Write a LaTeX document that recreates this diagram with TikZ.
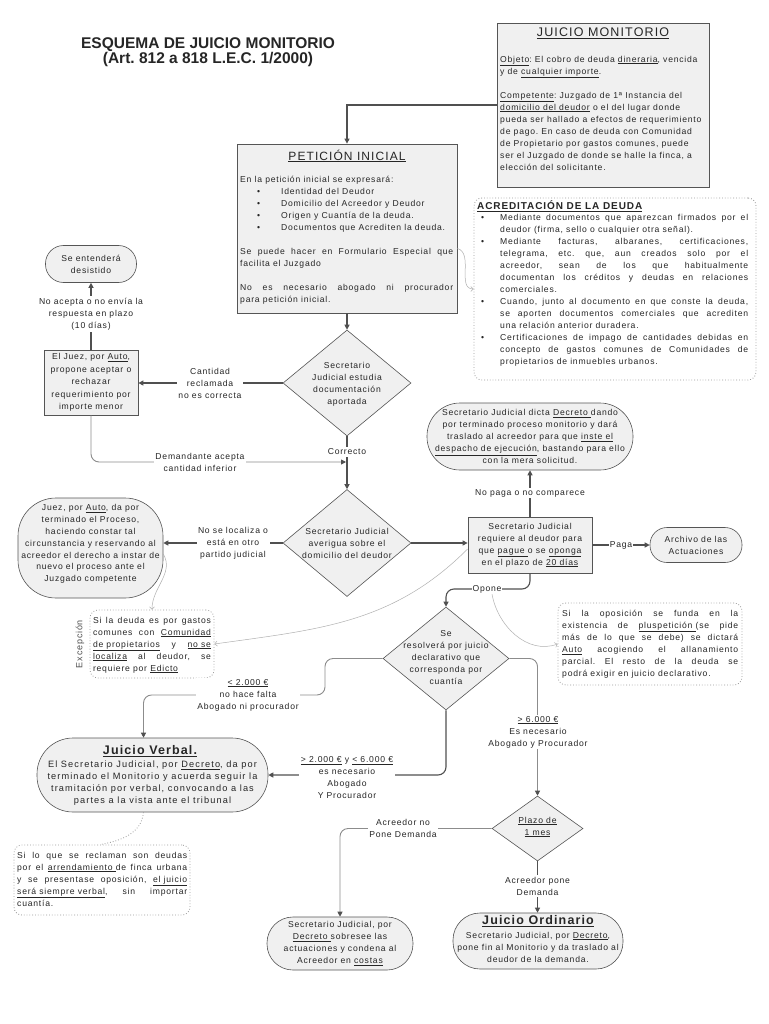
\documentclass[tikz,border=0pt]{standalone}
\usepackage{fontspec}
\setmainfont{Liberation Sans}[LetterSpace=9]
\newfontfamily\titlefont{Liberation Sans}
\usetikzlibrary{shapes.geometric,arrows.meta}
\definecolor{tx}{HTML}{262626}
\definecolor{bd}{HTML}{555555}
\definecolor{fl}{HTML}{F0F0F0}
\definecolor{ln}{HTML}{505050}
\definecolor{lg}{HTML}{8C8C8C}
\definecolor{nt}{HTML}{B0B0B0}
\definecolor{dt}{HTML}{999999}
\newlength\jw
\newcommand\J[1]{\makebox[\jw][s]{#1}}
\frenchspacing
\tikzset{
  base/.style={font=\fontsize{8.6}{12}\selectfont\frenchspacing, text=tx, inner sep=0pt},
  rectbox/.style={draw=bd, fill=fl, line width=0.8pt},
  stadium/.style={draw=bd, fill=fl, line width=0.6pt},
  diam/.style={diamond, draw=bd, fill=fl, line width=0.6pt, inner sep=0pt},
  notebox/.style={draw=dt, dotted, line width=0.8pt, rounded corners=8pt, fill=white, inner sep=0pt},
  txt/.style={base, align=center},
  lbl/.style={base, align=center, fill=white, inner sep=1.5pt},
  conn/.style={draw=ln, line width=1.1pt, -{Triangle[length=5pt,width=5pt]}},
  lconn/.style={draw=lg, line width=0.9pt, -{Triangle[length=5pt,width=5pt,fill=ln,color=ln]}},
  note/.style={draw=nt, line width=0.5pt, -{Straight Barb[length=2.5pt,width=5pt]}},
  jw/.style={execute at begin node={\setlength{\jw}{#1}\frenchspacing}},
}
\begin{document}
\begin{tikzpicture}[x=1pt,y=-1pt]
\useasboundingbox[fill=white] (0,0) rectangle (768,1024);

% title
\node[base, font=\titlefont\bfseries\fontsize{15.5}{15}\selectfont, align=center, text=tx] (title) at (208,52) {ESQUEMA DE JUICIO MONITORIO\\(Art. 812 a 818 L.E.C. 1/2000)};

% Juicio monitorio
\node[rectbox, minimum width=212pt, minimum height=164pt] (jm) at (603,105) {};
\node[base, font=\fontsize{12.5}{14}\selectfont] (jmt) at (603,33) {\underline{JUICIO MONITORIO}};
\node[base, align=left, anchor=west] (jmx) at (500,113) {\underline{Objeto}: El cobro de deuda \underline{dineraria}, vencida\\
y de \underline{cualquier importe}.\\[12pt]
\underline{Competente}: Juzgado de 1ª Instancia del\\
\underline{domicilio del deudor} o el del lugar donde\\
pueda ser hallado a efectos de requerimiento\\
de pago. En caso de deuda con Comunidad\\
de Propietario por gastos comunes, puede\\
ser el Juzgado de donde se halle la finca, a\\
elección del solicitante.};

% Peticion inicial
\node[rectbox, minimum width=220pt, minimum height=169pt] (pi) at (347,228.5) {};
\node[base, font=\fontsize{12}{13}\selectfont] (pit) at (347,156) {\underline{PETICIÓN INICIAL}};
\node[base, align=left, anchor=west, jw=213pt] (pix) at (240,240) {En la petición inicial se expresará:\\
\hspace*{17pt}\makebox[24pt][l]{\textbullet}Identidad del Deudor\\
\hspace*{17pt}\makebox[24pt][l]{\textbullet}Domicilio del Acreedor y Deudor\\
\hspace*{17pt}\makebox[24pt][l]{\textbullet}Origen y Cuantía de la deuda.\\
\hspace*{17pt}\makebox[24pt][l]{\textbullet}Documentos que Acrediten la deuda.\\[12pt]
\J{Se puede hacer en Formulario Especial que}\\
facilita el Juzgado\\[12pt]
\J{No es necesario abogado ni procurador}\\
para petición inicial.};

% Acreditacion
\node[notebox, minimum width=282pt, minimum height=182pt] (acr) at (615,289) {};
\node[base, font=\bfseries\fontsize{10}{12}\selectfont, anchor=west] (acrt) at (477,206) {\underline{ACREDITACIÓN DE LA DEUDA}};
\node[base, align=left, anchor=west, jw=248pt] (acrx) at (481,290) {\makebox[19pt][l]{\textbullet}\J{Mediante documentos que aparezcan firmados por el}\\
\hspace*{19pt}deudor (firma, sello o cualquier otra señal).\\
\makebox[19pt][l]{\textbullet}\J{Mediante facturas, albaranes, certificaciones,}\\
\hspace*{19pt}\J{telegrama, etc. que, aun creados solo por el}\\
\hspace*{19pt}\J{acreedor, sean de los que habitualmente}\\
\hspace*{19pt}\J{documentan los créditos y deudas en relaciones}\\
\hspace*{19pt}comerciales.\\
\makebox[19pt][l]{\textbullet}\J{Cuando, junto al documento en que conste la deuda,}\\
\hspace*{19pt}\J{se aporten documentos comerciales que acrediten}\\
\hspace*{19pt}una relación anterior duradera.\\
\makebox[19pt][l]{\textbullet}\J{Certificaciones de impago de cantidades debidas en}\\
\hspace*{19pt}\J{concepto de gastos comunes de Comunidades de}\\
\hspace*{19pt}propietarios de inmuebles urbanos.};

% diamond 1
\node[diam, minimum width=128pt, minimum height=106pt] (d1) at (347,383) {};
\node[txt] (d1t) at (347,384) {Secretario\\Judicial estudia\\documentación\\aportada};

% left column
\node[base, stadium, rounded corners=18pt, minimum width=91pt, minimum height=37pt, align=center] (des) at (91,264) {Se entenderá\\desistido};
\node[base, rectbox, minimum width=94pt, minimum height=65pt, align=center, font=\fontsize{8.6}{12.5}\selectfont] (juez) at (91,382.5) {El Juez, por \underline{Auto},\\propone aceptar o\\rechazar\\requerimiento por\\importe menor};

% diamond 2
\node[diam, minimum width=128pt, minimum height=107pt] (d2) at (347,543) {};
\node[txt] (d2t) at (347,543) {Secretario Judicial\\averigua sobre el\\domicilio del deudor};

\node[base, stadium, rounded corners=38pt, minimum width=145pt, minimum height=100pt] (j2) at (90.5,548) {};
\node[txt, font=\fontsize{8.6}{11.8}\selectfont] (j2t) at (90.5,544) {Juez, por \underline{Auto}, da por\\terminado el Proceso,\\haciendo constar tal\\circunstancia y reservando al\\acreedor el derecho a instar de\\nuevo el proceso ante el\\Juzgado competente};

% excepcion
\node[notebox, minimum width=124pt, minimum height=68pt] (exc) at (152,644) {};
\node[base, align=left, jw=118pt] (excx) at (152,645) {\J{Si la deuda es por gastos}\\
\J{comunes con \underline{Comunidad}}\\
\J{\underline{de propietarios} y \underline{no se}}\\
\J{\underline{localiza} al deudor, se}\\
requiere por \underline{Edicto}};
\node[base, rotate=90, font=\fontsize{9}{10}\selectfont, text=ln] (excl) at (80,644) {Excepción};

% requiere
\node[base, rectbox, minimum width=124pt, minimum height=56pt, align=center] (req) at (530,545) {Secretario Judicial\\requiere al deudor para\\que \underline{pague }o se \underline{oponga}\\en el plazo de \underline{20 días}};
\node[base, stadium, rounded corners=33pt, minimum width=206pt, minimum height=67pt, align=center] (dec) at (530,436.5) {Secretario Judicial dicta \underline{Decreto }dando\\por terminado proceso monitorio y dará\\traslado al acreedor para que \underline{inste el}\\\underline{despacho de ejecución}, bastando para ello\\con la mera solicitud.};
\node[base, stadium, rounded corners=17pt, minimum width=92pt, minimum height=35pt, align=center] (arch) at (696,545) {Archivo de las\\Actuaciones};

% oposicion
\node[notebox, minimum width=184pt, minimum height=82pt] (opo) at (650,644) {};
\node[base, align=left, anchor=west, jw=176pt] (opox) at (562,644) {\J{Si la oposición se funda en la}\\
\J{existencia de \underline{pluspetición }(se pide}\\
\J{más de lo que se debe) se dictará}\\
\J{\underline{Auto} acogiendo el allanamiento}\\
\J{parcial. El resto de la deuda se}\\
podrá exigir en juicio declarativo.};

% diamond 3
\node[diam, minimum width=126pt, minimum height=103pt] (d3) at (446,658.5) {};
\node[txt] (d3t) at (446,658) {Se\\resolverá por juicio\\declarativo que\\corresponda por\\cuantía};

% juicio verbal
\node[base, stadium, rounded corners=36pt, minimum width=231pt, minimum height=74pt] (jv) at (152.5,775) {};
\node[base, font=\bfseries\fontsize{12.5}{14}\selectfont] (jvt) at (150,751) {\underline{Juicio Verbal.}};
\node[txt, font=\fontsize{9.2}{12}\selectfont\addfontfeatures{LetterSpace=12}] (jvx) at (152.5,783) {El Secretario Judicial, por \underline{Decreto}, da por\\terminado el Monitorio y acuerda seguir la\\tramitación por verbal, convocando a las\\partes a la vista ante el tribunal};

% arrendamiento
\node[notebox, minimum width=176pt, minimum height=70pt] (arr) at (102,880) {};
\node[base, align=left, anchor=west, jw=170pt] (arrx) at (17,879) {\J{Si lo que se reclaman son deudas}\\
\J{por el \underline{arrendamiento }de finca urbana}\\
\J{y se presentase oposición, \underline{el juicio}}\\
\J{\underline{será siempre verbal}, sin importar}\\
cuantía.};

% plazo
\node[diam, minimum width=91pt, minimum height=65pt] (pl) at (537.5,828.5) {};
\node[txt] (plt) at (537.5,827) {\underline{Plazo de}\\\underline{1 mes}};

\node[base, stadium, rounded corners=26pt, minimum width=146pt, minimum height=53pt, align=center] (sob) at (340,943.5) {Secretario Judicial, por\\\underline{Decreto }sobresee las\\actuaciones y condena al\\Acreedor en \underline{costas}};
\node[base, stadium, rounded corners=27pt, minimum width=170pt, minimum height=56pt] (jo) at (538,941) {};
\node[base, font=\bfseries\fontsize{12.5}{14}\selectfont] (jot) at (538,921) {\underline{Juicio Ordinario}};
\node[txt] (jox) at (538,947) {Secretario Judicial, por \underline{Decreto},\\pone fin al Monitorio y da traslado al\\deudor de la demanda.};

% ---------- connectors ----------
\draw[conn] (jm.west) -| (pi.north);
\draw[conn] (pi.south) -- (d1.north);
\draw[note] ([yshift=-20pt]pi.east) to[out=-15,in=180] (acr.west);

\draw[conn] (juez.north) -- (des.south);
\draw[conn] (d1.west) -- (d1.west -| juez.east);
\coordinate (dm) at (346,462);
\draw[lconn, rounded corners=8pt] (juez.south) |- (dm);
\draw[conn] (d1.south) -- (d2.north);

\draw[conn] (d2.west) -- (d2.west -| j2.east);
\draw[conn] (d2.east) -- (d2.east -| req.west);
\draw[note] ([yshift=-6pt]j2.east) to[out=-60,in=90] (exc.north);
\draw[note] ([yshift=-4pt]req.west) to[out=225,in=8] (exc.east);

\draw[conn] (req.north) -- (req.north |- dec.south);
\draw[conn] (req.east) -- (arch.west);
\coordinate (op) at (446,589);
\draw[conn, rounded corners=8pt] (req.south) |- (op) -- (d3.north);

\coordinate (b1) at (325,695);
\draw[lconn, rounded corners=8pt] (d3.west) -| (b1) -| ([xshift=-9pt]jv.north);
\draw[conn, rounded corners=8pt] (d3.south) |- (jv.east);
\draw[lconn, rounded corners=8pt] (d3.east) -| (pl.north);
\draw[draw=dt, dotted, line width=0.8pt] ([xshift=-9pt]jv.south) to[out=-95,in=10] ([xshift=-2pt]arr.north);

\draw[lconn, rounded corners=8pt] (pl.west) -| (sob.north);
\draw[conn] (pl.south) -- (pl.south |- jo.north);

% ---------- labels ----------
\node[lbl] (l1) at (91,314) {No acepta o no envía la\\respuesta en plazo\\(10 días)};
\node[lbl] (l2) at (210,383) {Cantidad\\reclamada\\no es correcta};
\node[lbl] (l3) at (347,452) {Correcto};
\node[lbl] (l4) at (200,462) {Demandante acepta\\cantidad inferior};
\node[lbl] (l5) at (233,543) {No se localiza o\\está en otro\\partido judicial};
\node[lbl] (l6) at (530,493) {No paga o no comparece};
\node[lbl, inner sep=1pt] (l7) at (621,545) {Paga};
\node[lbl, inner sep=1pt] (l8) at (487,589) {Opone};
\draw[note] ([xshift=5pt]l8.south) to[out=-80,in=200] (opo.west);
\node[lbl] (l9) at (248,695) {\underline{< 2.000 €}\\no hace falta\\Abogado ni procurador};
\node[lbl] (l10) at (347,777.5) {\underline{> 2.000 €} y \underline{< 6.000 €}\\es necesario\\Abogado\\Y Procurador};
\node[lbl] (l11) at (538,732) {\underline{> 6.000 €}\\Es necesario\\Abogado y Procurador};
\node[lbl] (l12) at (403,828) {Acreedor no\\Pone Demanda};
\node[lbl] (l13) at (537.5,886) {Acreedor pone\\Demanda};
\end{tikzpicture}
\end{document}
